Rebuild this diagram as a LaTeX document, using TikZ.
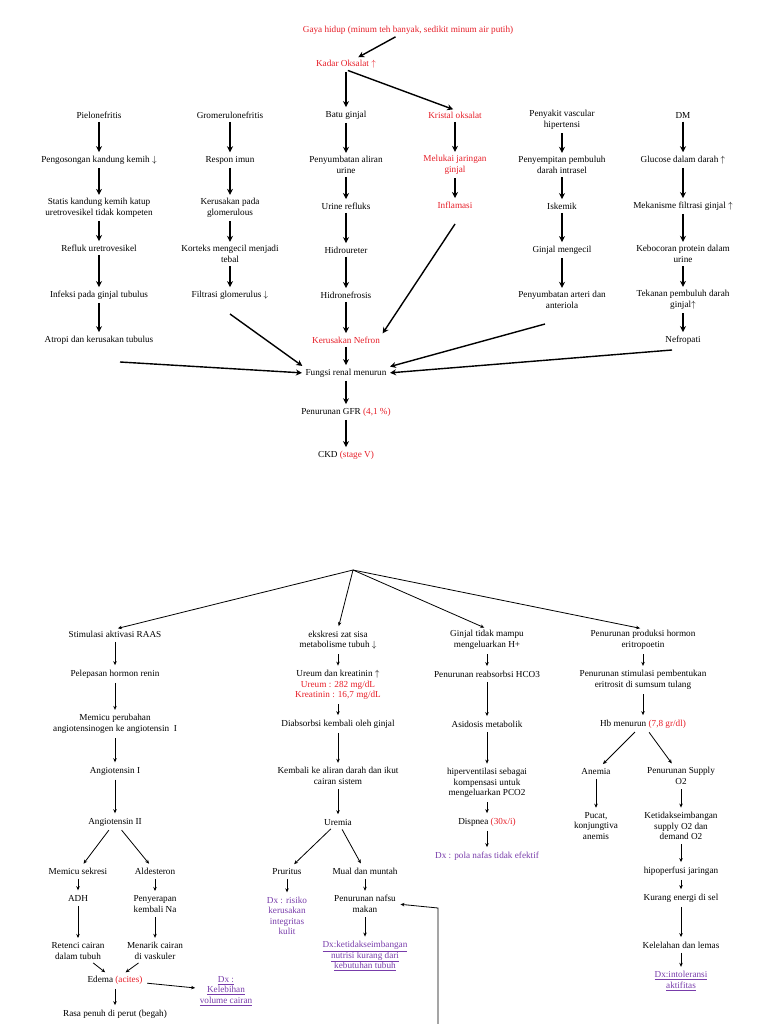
\documentclass[tikz,border=0pt]{standalone}
\usepackage{fontspec}
\setmainfont{Liberation Serif}
\usetikzlibrary{arrows.meta}
\definecolor{rd}{RGB}{230,30,40}
\definecolor{pu}{RGB}{120,60,170}
\begin{document}
\begin{tikzpicture}[x=1pt,y=-1pt,
 every node/.style={font=\fontsize{9.2}{10.5}\selectfont,align=center,inner sep=1.5pt},
 r/.style={text=rd}, dx/.style={text=pu},
 ta/.style={-{Stealth[length=6pt,width=6pt]},line width=1.4pt,shorten <=2pt,shorten >=2pt},
 tn/.style={-{Stealth[length=4pt,width=3.5pt]},line width=0.8pt,shorten <=3pt,shorten >=3pt}]
\useasboundingbox (0,0) rectangle (768,1024);
% top
\node[r] (g) at (408,30) {Gaya hidup (minum teh banyak, sedikit minum air putih)};
\node[r] (k) at (346,64) {Kadar Oksalat $\uparrow$};
\node (a1) at (99,115) {Pielonefritis};
\node (a2) at (99,160) {Pengosongan kandung kemih $\downarrow$};
\node (a3) at (99,208) {Statis kandung kemih katup\\uretrovesikel tidak kompeten};
\node (a4) at (99,248) {Refluk uretrovesikel};
\node (a5) at (99,295) {Infeksi pada ginjal tubulus};
\node (a6) at (99,340) {Atropi dan kerusakan tubulus};
\node (b1) at (230,115) {Gromerulonefritis};
\node (b2) at (230,160) {Respon imun};
\node (b3) at (230,208) {Kerusakan pada\\glomerulous};
\node (b4) at (230,254) {Korteks mengecil menjadi\\tebal};
\node (b5) at (230,295) {Filtrasi glomerulus $\downarrow$};
\node (c1) at (346,115) {Batu ginjal};
\node (c2) at (346,165) {Penyumbatan aliran\\urine};
\node (c3) at (346,206) {Urine refluks};
\node (c4) at (346,250) {Hidroureter};
\node (c5) at (346,295) {Hidronefrosis};
\node[r] (c6) at (346,340) {Kerusakan Nefron};
\node (c7) at (346,373) {Fungsi renal menurun};
\node (c8) at (346,412) {Penurunan GFR \textcolor{rd}{(4,1 \%)}};
\node (c9) at (346,455) {CKD \textcolor{rd}{(stage V)}};
\node[r] (d1) at (455,115) {Kristal oksalat};
\node[r] (d2) at (455,165) {Melukai jaringan\\ginjal};
\node[r] (d3) at (455,205) {Inflamasi};
\node (e1) at (562,120) {Penyakit vascular\\hipertensi};
\node (e2) at (562,165) {Penyempitan pembuluh\\darah intrasel};
\node (e3) at (562,206) {Iskemik};
\node (e4) at (562,250) {Ginjal mengecil};
\node (e5) at (562,300) {Penyumbatan arteri dan\\anteriola};
\node (f1) at (683,115) {DM};
\node (f2) at (683,160) {Glucose dalam darah $\uparrow$};
\node (f3) at (683,206) {Mekanisme filtrasi ginjal $\uparrow$};
\node (f4) at (683,254) {Kebocoran protein dalam\\urine};
\node (f5) at (683,300) {Tekanan pembuluh darah\\ginjal$\uparrow$};
\node (f6) at (683,340) {Nefropati};
\draw[ta] (g) -- (k);
\draw[ta] (k) -- (c1);
\draw[ta] (k.south) -- (d1.north);
\foreach \p in {a,b,c,d,e,f}{}
\foreach \u/\v in {a1/a2,a2/a3,a3/a4,a4/a5,a5/a6,b1/b2,b2/b3,b3/b4,b4/b5,c2/c3,c3/c4,c4/c5,c5/c6,c6/c7,c7/c8,c8/c9,d1/d2,d2/d3,e1/e2,e2/e3,e3/e4,e4/e5,f1/f2,f2/f3,f3/f4,f4/f5,f5/f6,c1/c2}
 \draw[ta] (\u) -- (\v);
\coordinate (x1) at (120,362);
\coordinate (x2) at (230,314);
\coordinate (x3) at (455,224);
\coordinate (x4) at (545,324);
\coordinate (x5) at (672,350);
\draw[ta,shorten <=0pt] (x1) -- (c7.west);
\draw[ta,shorten <=0pt] (x2) -- (c7.north west);
\draw[ta,shorten <=0pt] (x3) -- (c6.north east);
\draw[ta,shorten <=0pt] (x4) -- (c7.north east);
\draw[ta,shorten <=0pt] (x5) -- (c7.east);
% bottom
\coordinate (ap) at (353,570);
\node (A1) at (115,634) {Stimulasi aktivasi RAAS};
\node (A2) at (115,674) {Pelepasan hormon renin};
\node (A3) at (115,724) {Memicu perubahan\\angiotensinogen ke angiotensin\ \ I};
\node (A4) at (115,771) {Angiotensin I};
\node (A5) at (115,822) {Angiotensin II};
\node (A6) at (78,871) {Memicu sekresi};
\node (A7) at (155,871) {Aldesteron};
\node (A8) at (78,898) {ADH};
\node (A9) at (155,904) {Penyerapan\\kembali Na};
\node (A10) at (78,951) {Retenci cairan\\dalam tubuh};
\node (A11) at (155,951) {Menarik cairan\\di vaskuler};
\node (A12) at (115,980) {Edema \textcolor{rd}{(acites)}};
\node (A13) at (115,1014) {Rasa penuh di perut (begah)};
\node[dx] (A14) at (226,991) {\underline{Dx :}\\\underline{Kelebihan}\\\underline{volume cairan}};
\node (B1) at (338,640) {ekskresi zat sisa\\metabolisme tubuh $\downarrow$};
\node (B2) at (338,685) {Ureum dan kreatinin $\uparrow$\\\textcolor{rd}{Ureum : 282 mg/dL}\\\textcolor{rd}{Kreatinin : 16,7 mg/dL}};
\node (B3) at (338,724) {Diabsorbsi kembali oleh ginjal};
\node (B4) at (338,776) {Kembali ke aliran darah dan ikut\\cairan sistem};
\node (B5) at (338,822) {Uremia};
\node (B6) at (287,871) {Pruritus};
\node (B7) at (365,871) {Mual dan muntah};
\node[dx] (B8) at (287,916) {Dx : risiko\\kerusakan\\integritas\\kulit};
\node (B9) at (365,904) {Penurunan nafsu\\makan};
\node[dx] (B10) at (365,956) {\underline{Dx:ketidakseimbangan}\\\underline{nutrisi kurang dari}\\\underline{kebutuhan tubuh}};
\coordinate (bb) at (438,1024);
\coordinate (bc) at (438,908);
\node (C1) at (487,640) {Ginjal tidak mampu\\mengeluarkan H+};
\node (C2) at (487,674) {Penurunan reabsorbsi HCO3};
\node (C3) at (487,724) {Asidosis metabolik};
\node (C4) at (487,783) {hiperventilasi sebagai\\kompensasi untuk\\mengeluarkan PCO2};
\node (C5) at (487,822) {Dispnea \textcolor{rd}{(30x/i)}};
\node[dx] (C6) at (487,856) {Dx : pola nafas tidak efektif};
\node (D1) at (643,640) {Penurunan produksi hormon\\eritropoetin};
\node (D2) at (643,680) {Penurunan stimulasi pembentukan\\eritrosit di sumsum tulang};
\node (D3) at (643,724) {Hb menurun \textcolor{rd}{(7,8 gr/dl)}};
\node (D4) at (596,771) {Anemia};
\node (D5) at (681,776) {Penurunan Supply\\O2};
\node (D6) at (596,826) {Pucat,\\konjungtiva\\anemis};
\node (D7) at (681,826) {Ketidakseimbangan\\supply O2 dan\\demand O2};
\node (D8) at (681,871) {hipoperfusi jaringan};
\node (D9) at (681,898) {Kurang energi di sel};
\node (D10) at (681,945) {Kelelahan dan lemas};
\node[dx] (D11) at (681,981) {\underline{Dx:intoleransi}\\\underline{aktifitas}};
\draw[tn,shorten <=0pt] (ap) -- (A1.north);
\draw[tn,shorten <=0pt] (ap) -- (B1.north);
\draw[tn,shorten <=0pt] (ap) -- (C1.north);
\draw[tn,shorten <=0pt] (ap) -- (D1.north);
\foreach \u/\v in {A1/A2,A2/A3,A3/A4,A4/A5,A5/A6,A5/A7,A6/A8,A7/A9,A8/A10,A9/A11,A10/A12,A11/A12,A12/A13,B1/B2,B2/B3,B3/B4,B4/B5,B5/B6,B5/B7,B6/B8,B7/B9,B9/B10,C1/C2,C2/C3,C3/C4,C4/C5,C5/C6,D1/D2,D2/D3,D3/D4,D3/D5,D4/D6,D5/D7,D7/D8,D8/D9,D9/D10,D10/D11}
 \draw[tn] (\u) -- (\v);
\draw[tn] (A12) -- (A14);
\draw[tn,shorten <=0pt] (bb) -- (bc) -- (B9.east);
\end{tikzpicture}
\end{document}
